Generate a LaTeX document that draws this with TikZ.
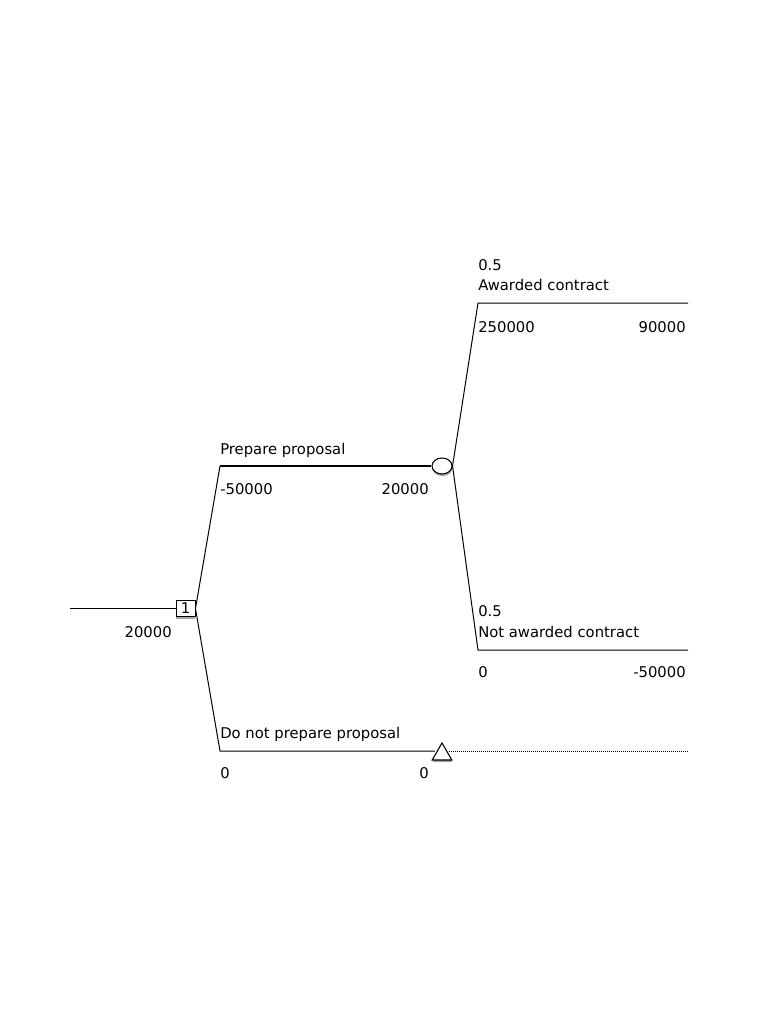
\documentclass[tikz,border=0pt]{standalone}
\usepackage{fontspec}
\setmainfont{DejaVu Sans}
\usetikzlibrary{shapes.geometric,shadows}
\begin{document}
\begin{tikzpicture}[x=0.75pt,y=-0.75pt,
    font=\fontsize{11.1}{13}\selectfont,
    edge/.style = {draw=black,line width=0.75pt},
    best/.style = {draw=black,line width=1.5pt},
    shade/.style = {drop shadow={shadow xshift=0.3pt,shadow yshift=-1.6pt,fill=black!35,opacity=1}},
    decision/.style = {rectangle,draw,fill=white,line width=0.7pt,minimum width=14.25pt,minimum height=12pt,inner sep=0pt,shade},
    chance/.style = {ellipse,draw,fill=white,line width=0.8pt,minimum width=15pt,minimum height=12pt,inner sep=0pt,shade},
    terminal/.style = {regular polygon,regular polygon sides=3,draw,fill=white,line width=0.8pt,minimum size=17pt,inner sep=0pt,shade},
    above label/.style = {anchor=base west,inner sep=0pt},
    left value/.style = {anchor=base west,inner sep=0pt},
    right value/.style = {anchor=base east,inner sep=0pt}]
\useasboundingbox (0,0) rectangle (768,1024);

% nodes of the tree
\coordinate (root) at (70,608.5);
\node[decision] (dec) at (185.5,608.5) {1};
\node[chance] (ch) at (442,466) {};
\node[terminal] (tri) at (442,754.3) {};
\coordinate (pp) at (220,466);
\coordinate (np) at (220,751);
\coordinate (aw) at (478,303);
\coordinate (na) at (478,650);
\coordinate (awE) at (688,303);
\coordinate (naE) at (688,650);
\coordinate (npE) at (688,751);

% branches
\draw[edge] (root) -- (dec);
\draw[edge] (dec.east) -- (pp);
\draw[best] (pp) -- (ch);
\draw[edge] (dec.east) -- (np) -- (np -| tri.west);
\draw[densely dotted,line width=0.5pt] (np -| tri.east) -- (npE);
\draw[edge] (ch.east) -- (aw) -- (awE);
\draw[edge] (ch.east) -- (na) -- (naE);

% labels
\node[right value] (v0) at (172,637.5) {20000};
\node[above label] (l1) at (220,454.5) {Prepare proposal};
\node[left value] (c1) at (220,494.5) {-50000};
\node[right value] (v1) at (429,494.5) {20000};
\node[above label] (l2) at (220,738.5) {Do not prepare proposal};
\node[left value] (c2) at (220,778.5) {0};
\node[right value] (v2) at (429,778.5) {0};
\node[above label] (p3) at (478,270.5) {0.5};
\node[above label] (l3) at (478,290.5) {Awarded contract};
\node[left value] (c3) at (478,332) {250000};
\node[right value] (v3) at (686,332) {90000};
\node[above label] (p4) at (478,616.5) {0.5};
\node[above label] (l4) at (478,637.5) {Not awarded contract};
\node[left value] (c4) at (478,677.5) {0};
\node[right value] (v4) at (686,677.5) {-50000};
\end{tikzpicture}
\end{document}
